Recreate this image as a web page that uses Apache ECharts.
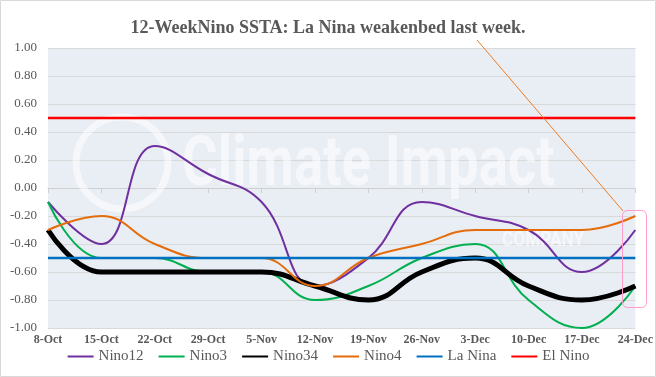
<!DOCTYPE html>
<html>
<head>
<meta charset="utf-8">
<script src="https://cdn.jsdelivr.net/npm/echarts@6/dist/echarts.min.js"></script>
<style>
  html, body { margin: 0; padding: 0; background: #fff; }
  #main { width: 656px; height: 377px; }
</style>
</head>
<body>
<div id="main"></div>
<script>
// 数据
var weeks = ['8-Oct', '15-Oct', '22-Oct', '29-Oct', '5-Nov', '12-Nov', '19-Nov', '26-Nov', '3-Dec', '10-Dec', '17-Dec', '24-Dec'];
var nino12 = [-0.1, -0.4, 0.3, 0.1, -0.1, -0.7, -0.5, -0.1, -0.2, -0.3, -0.6, -0.3];
var nino3 = [-0.1, -0.5, -0.5, -0.6, -0.6, -0.8, -0.7, -0.5, -0.4, -0.8, -1.0, -0.7];
var nino34 = [-0.3, -0.6, -0.6, -0.6, -0.6, -0.7, -0.8, -0.6, -0.5, -0.7, -0.8, -0.7];
var nino4 = [-0.3, -0.2, -0.4, -0.5, -0.5, -0.7, -0.5, -0.4, -0.3, -0.3, -0.3, -0.2];
var laNina = [-0.5, -0.5, -0.5, -0.5, -0.5, -0.5, -0.5, -0.5, -0.5, -0.5, -0.5, -0.5];
var elNino = [0.5, 0.5, 0.5, 0.5, 0.5, 0.5, 0.5, 0.5, 0.5, 0.5, 0.5, 0.5];

var serif = '"Liberation Serif", "DejaVu Serif", serif';
var textColor = '#595959';

var chartObj = document.getElementById('main');
var chart = echarts.init(chartObj);

function line(name, data, color, width) {
    return {
        name: name,
        type: 'line',
        data: data,
        smooth: 0.45,
        showSymbol: false,
        symbol: 'none',
        lineStyle: { color: color, width: width },
        itemStyle: { color: color }
    };
}

var option = {
    animation: false,
    title: {
        text: '12-WeekNino SSTA: La Nina weakenbed last week.',
        left: 'center',
        top: 14,
        textStyle: {
            fontFamily: serif,
            fontSize: 18,
            fontWeight: 'bold',
            color: textColor
        }
    },
    grid: {
        left: 48,
        right: 17,
        top: 48,
        bottom: 49,
        show: true,
        backgroundColor: '#e9edf4',
        borderWidth: 0
    },
    legend: {
        bottom: 8,
        left: 'center',
        itemWidth: 26,
        itemHeight: 10,
        itemGap: 14,
        itemStyle: { opacity: 0, borderWidth: 0 },
        textStyle: { fontFamily: serif, fontSize: 15, color: textColor },
        data: ['Nino12', 'Nino3', 'Nino34', 'Nino4', 'La Nina', 'El Nino']
    },
    xAxis: {
        type: 'category',
        data: weeks,
        boundaryGap: false,
        axisLine: { onZero: true, lineStyle: { color: '#d0d0d0' } },
        axisTick: { show: true, length: 5, lineStyle: { color: '#d0d0d0' } },
        axisLabel: {
            margin: 6,
            fontFamily: serif,
            fontSize: 12,
            fontWeight: 'bold',
            color: textColor,
            interval: 0
        },
        splitLine: { show: false }
    },
    yAxis: {
        type: 'value',
        min: -1,
        max: 1,
        interval: 0.2,
        axisLine: { show: false },
        axisTick: { show: false },
        axisLabel: {
            margin: 11,
            fontFamily: serif,
            fontSize: 13,
            color: textColor,
            formatter: function (v) { return v.toFixed(2); }
        },
        splitLine: { lineStyle: { color: '#d9d9d9', width: 1 } }
    },
    graphic: [
        // 外边框
        { type: 'rect', z: 100, shape: { x: 0.5, y: 0.5, width: 655, height: 376 },
          style: { fill: 'none', stroke: '#d9d9d9', lineWidth: 1 } },
        // 水印
        { type: 'circle', z: 1, shape: { cx: 122, cy: 163, r: 46 },
          style: { fill: 'none', stroke: 'rgba(255,255,255,0.55)', lineWidth: 7 } },
        { type: 'text', z: 1, x: 182, y: 132, scaleX: 0.78,
          style: { text: 'Climate Impact', fill: 'rgba(255,255,255,0.55)',
                   font: 'bold 70px Roboto, sans-serif' } },
        { type: 'text', z: 1, x: 502, y: 230, scaleX: 0.82,
          style: { text: 'COMPANY', fill: 'rgba(255,255,255,0.55)',
                   font: 'bold 21px Roboto, sans-serif' } },
        // 注释线
        { type: 'line', z: 100, shape: { x1: 477, y1: 40, x2: 623, y2: 211 },
          style: { stroke: '#f07c1e', lineWidth: 1 } },
        { type: 'rect', z: 100, shape: { x: 622.5, y: 210.5, width: 24, height: 97, r: 5 },
          style: { fill: 'none', stroke: '#ff9ccc', lineWidth: 1 } }
    ],
    series: [
        line('Nino12', nino12, '#7030a0', 2),
        line('Nino3', nino3, '#00b050', 2),
        line('Nino34', nino34, '#000000', 5),
        line('Nino4', nino4, '#e46c0a', 2),
        line('La Nina', laNina, '#0070c0', 2.5),
        line('El Nino', elNino, '#ff0000', 2.5)
    ]
};

chart.setOption(option);
</script>
</body>
</html>
